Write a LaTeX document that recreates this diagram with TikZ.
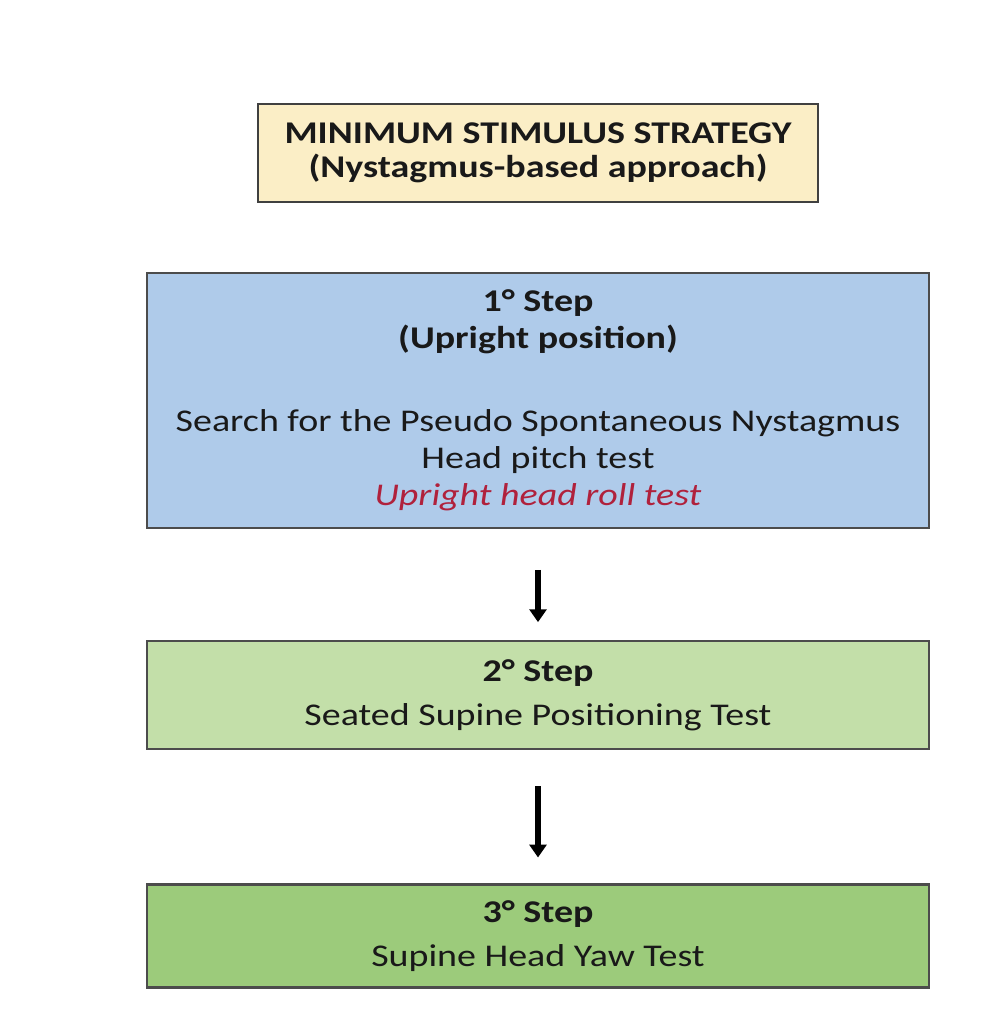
\documentclass[tikz,border=0pt]{standalone}
\usepackage{fontspec}
\setmainfont[FakeStretch=1.2]{Carlito}
\usetikzlibrary{positioning}
\usetikzlibrary{arrows.meta}
\definecolor{titlefill}{HTML}{FBEEC6}
\definecolor{step1fill}{HTML}{AFCBEA}
\definecolor{step2fill}{HTML}{C3DFA9}
\definecolor{step3fill}{HTML}{9CCB7B}
\definecolor{rollred}{HTML}{B0213C}
\tikzset{
  flecha/.style={
    line width=4pt,
    -{Triangle[length=0.32cm,width=0.42cm]}
  }
}

\begin{document}
\begin{tikzpicture}[node distance=1.8cm] % estilos de las cajas
\tikzstyle{titlebox} = [rectangle, draw=black!75, line width=1.5pt, align=center, text=black!90, font=\bfseries\fontsize{22.5}{24}\selectfont, fill=titlefill, minimum width=14cm, minimum height=2.45cm] \tikzstyle{stepbox} = [rectangle, draw=black!70, line width=1.5pt, align=center, text=black!90, font=\fontsize{22.5}{26.5}\selectfont, minimum width=19.55cm]
\useasboundingbox (0,0) rectangle (24.7,-25.35);
% caja del titulo
\node (titulo) [titlebox] at (13.45,-3.825) {MINIMUM STIMULUS STRATEGY\\(Nystagmus-based approach)};
% cajas de los pasos
\node (paso1) [stepbox, fill=step1fill, minimum height=6.375cm, below=1.72cm of titulo] {\textbf{1° Step}\\\textbf{(Upright position)}\\[32pt] Search for the Pseudo Spontaneous Nystagmus\\Head pitch test\\\textcolor{rollred}{\itshape Upright head roll test}}; \node (paso2) [stepbox, fill=step2fill, minimum height=2.7cm, below=2.78cm of paso1] {\textbf{2° Step}\\[5pt]Seated Supine Positioning Test}; \node (paso3) [stepbox, fill=step3fill, minimum height=2.575cm, below=3.33cm of paso2] {\textbf{3° Step}\\[5pt]Supine Head Yaw Test};
% flechas entre los pasos
\foreach \a/\b/\s/\e in {1/2/1.02/0.45, 2/3/0.9/0.65}{ \draw[flecha, shorten <=\s cm, shorten >=\e cm] (paso\a.south) -- (paso\b.north); }
\end{tikzpicture}
\end{document}
